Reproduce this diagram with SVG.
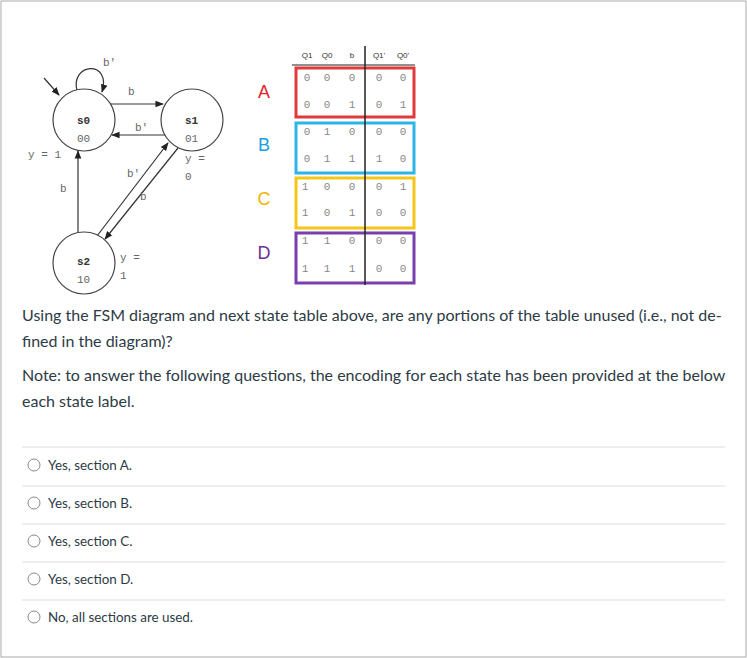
<svg xmlns="http://www.w3.org/2000/svg" width="747" height="658" viewBox="0 0 747 658">
<style>
.m{font-family:"Liberation Mono",monospace;font-size:11px;fill:#666}
.mb{font-family:"Liberation Mono",monospace;font-size:11px;fill:#333;font-weight:bold}
.st{fill:#fff;stroke:#444;stroke-width:1.2}
.e{stroke:#333;stroke-width:1.2;fill:none}
.t{font-family:"Lato","Liberation Sans",sans-serif;font-size:16px;fill:#2d3b45}
.o{font-family:"Lato","Liberation Sans",sans-serif;font-size:13.4px;fill:#2d3b45}
.c{font-family:"Liberation Mono",monospace;font-size:11px;fill:#888;text-anchor:middle}
.h{font-family:"Liberation Sans",sans-serif;font-size:8px;fill:#333;text-anchor:middle}
.L{font-family:"Liberation Sans",sans-serif;font-size:18px;text-anchor:middle}
.sep{stroke:#ddd;stroke-width:1}
.r{fill:#fff;stroke:#888;stroke-width:1}
</style>
<defs><marker id="a" viewBox="0 0 10 10" refX="9" refY="5" markerWidth="7" markerHeight="7" orient="auto"><path d="M0,1L10,5L0,9z" fill="#222"/></marker></defs>
<rect x="1" y="1" width="745" height="656" fill="#fff" stroke="#aaa"/>
<g id="edges">
<path class="e" d="M44,78L59,95" marker-end="url(#a)"/>
<path class="e" d="M77,91C70,62 112,60 102,92" marker-end="url(#a)"/>
<path class="e" d="M110,104L163,104" marker-end="url(#a)"/>
<path class="e" d="M166,135L112,135" marker-end="url(#a)"/>
<path class="e" d="M78,232L78,151" marker-end="url(#a)"/>
<path class="e" d="M97,236L168,143" marker-end="url(#a)"/>
<path class="e" d="M178,148L105,239" marker-end="url(#a)"/>
<text class="m" x="103" y="66">b'</text>
<text class="m" x="128" y="95">b</text>
<text class="m" x="135" y="131">b'</text>
<text class="m" x="28" y="158">y = 1</text>
<text class="m" x="60" y="192">b</text>
<text class="m" x="127" y="177">b'</text>
<text class="m" x="140" y="200">b</text>
</g>
<g id="s0"><circle class="st" cx="84" cy="120" r="31"/><text class="mb" x="77" y="124">s0</text><text class="m" x="77" y="142">00</text></g>
<g id="s1"><circle class="st" cx="192" cy="120" r="31"/><text class="mb" x="185" y="124">s1</text><text class="m" x="185" y="142">01</text><text class="m" x="185" y="162">y =</text><text class="m" x="185" y="180">0</text></g>
<g id="s2"><circle class="st" cx="84" cy="263" r="31"/><text class="mb" x="77" y="265">s2</text><text class="m" x="77" y="283">10</text><text class="m" x="120" y="261">y =</text><text class="m" x="120" y="279">1</text></g>
<g id="table">
<text class="h" x="307" y="58">Q1</text><text class="h" x="327" y="58">Q0</text><text class="h" x="352" y="58">b</text><text class="h" x="379" y="58">Q1'</text><text class="h" x="403" y="58">Q0'</text>
<line x1="292" y1="65" x2="415" y2="65" stroke="#222"/>
<rect x="296" y="68" width="118" height="49" fill="none" stroke="#e03a3a" stroke-width="3"/>
<rect x="296" y="123" width="118" height="50" fill="none" stroke="#2fb4e6" stroke-width="3"/>
<rect x="296" y="178" width="118" height="50" fill="none" stroke="#f5c518" stroke-width="3"/>
<rect x="296" y="233" width="118" height="50" fill="none" stroke="#7a3fae" stroke-width="3"/>
<line x1="365" y1="46" x2="365" y2="285" stroke="#222" stroke-width="1.5"/>
<text class="L" x="264" y="98" fill="#e3262b">A</text>
<text class="L" x="264" y="151" fill="#1aa0dc">B</text>
<text class="L" x="264" y="205" fill="#f2b400">C</text>
<text class="L" x="264" y="259" fill="#6a2c9a">D</text>
<g class="c">
<text x="307" y="81">0</text><text x="327" y="81">0</text><text x="352" y="81">0</text><text x="379" y="81">0</text><text x="403" y="81">0</text>
<text x="307" y="108">0</text><text x="327" y="108">0</text><text x="352" y="108">1</text><text x="379" y="108">0</text><text x="403" y="108">1</text>
<text x="307" y="135">0</text><text x="327" y="135">1</text><text x="352" y="135">0</text><text x="379" y="135">0</text><text x="403" y="135">0</text>
<text x="307" y="162">0</text><text x="327" y="162">1</text><text x="352" y="162">1</text><text x="379" y="162">1</text><text x="403" y="162">0</text>
<text x="305" y="190">1</text><text x="327" y="190">0</text><text x="352" y="190">0</text><text x="379" y="190">0</text><text x="403" y="190">1</text>
<text x="305" y="216">1</text><text x="327" y="216">0</text><text x="352" y="216">1</text><text x="379" y="216">0</text><text x="403" y="216">0</text>
<text x="305" y="244">1</text><text x="327" y="244">1</text><text x="352" y="244">0</text><text x="379" y="244">0</text><text x="403" y="244">0</text>
<text x="305" y="272">1</text><text x="327" y="272">1</text><text x="352" y="272">1</text><text x="379" y="272">0</text><text x="403" y="272">0</text>
</g>
</g>
<text class="t" x="22" y="321">Using the FSM diagram and next state table above, are any portions of the table unused (i.e., not de-</text>
<text class="t" x="22" y="347">fined in the diagram)?</text>
<text class="t" x="22" y="381">Note: to answer the following questions, the encoding for each state has been provided at the below</text>
<text class="t" x="22" y="407">each state label.</text>
<g>
<line class="sep" x1="22" y1="447" x2="725" y2="447"/><line class="sep" x1="22" y1="486" x2="725" y2="486"/><line class="sep" x1="22" y1="524" x2="725" y2="524"/><line class="sep" x1="22" y1="562" x2="725" y2="562"/><line class="sep" x1="22" y1="600" x2="725" y2="600"/>
<circle class="r" cx="34" cy="465" r="6"/><text class="o" x="48" y="470">Yes, section A.</text>
<circle class="r" cx="34" cy="503" r="6"/><text class="o" x="48" y="508">Yes, section B.</text>
<circle class="r" cx="34" cy="541" r="6"/><text class="o" x="48" y="546">Yes, section C.</text>
<circle class="r" cx="34" cy="579" r="6"/><text class="o" x="48" y="584">Yes, section D.</text>
<circle class="r" cx="34" cy="617" r="6"/><text class="o" x="48" y="622">No, all sections are used.</text>
</g>
</svg>
